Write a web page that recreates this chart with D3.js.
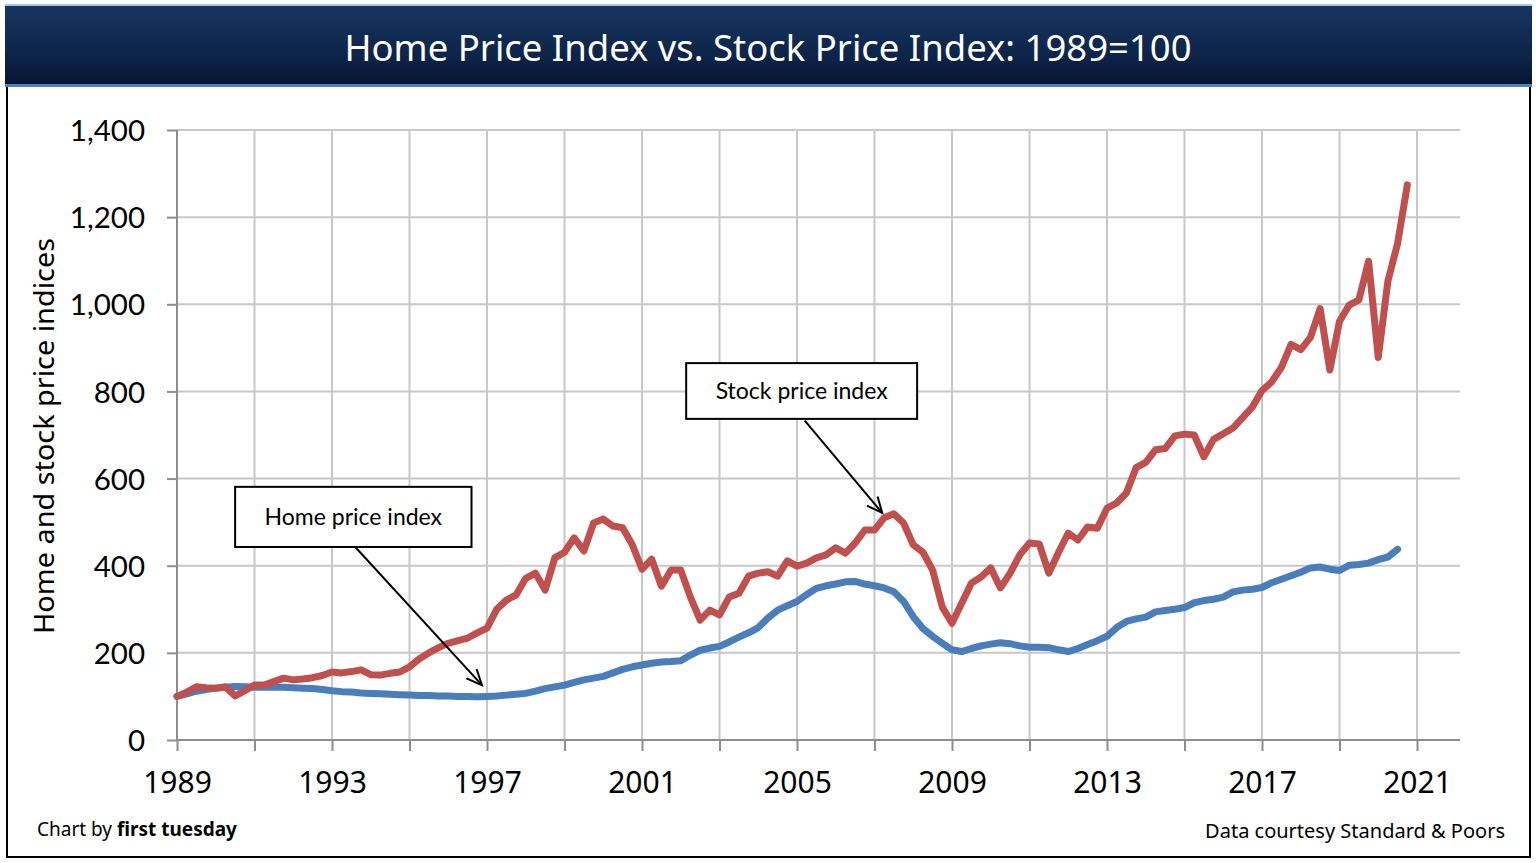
<!DOCTYPE html>
<html>
<head>
<meta charset="utf-8">
<script src="https://cdn.jsdelivr.net/npm/d3@7"></script>
<style>
  body { margin: 0; background: #fff; }
  svg { display: block; }
</style>
</head>
<body>
<div id="chart"></div>
<script>
// quarterly series, first point = 1989 Q1 (1989=100)
const firstYear = 1989;
const stockIndex = [
  100, 110, 122, 120,   // 1989
  119, 122, 101, 113,   // 1990
  126, 126, 134, 142,
  138, 140, 143, 148,
  156, 154, 157, 161,
  150, 149, 153, 156,
  168, 186, 200, 212,   // 1995
  222, 228, 234, 246,
  257, 300, 321, 333,
  371, 383, 344, 418,
  431, 464, 434, 498,
  507, 491, 487, 448,   // 2000
  392, 415, 353, 390,
  390, 328, 275, 298,
  287, 328, 337, 376,
  383, 386, 376, 411,
  399, 406, 418, 425,   // 2005
  441, 429, 452, 482,
  482, 510, 519, 498,
  448, 431, 390, 305,
  268, 314, 360, 374,
  395, 349, 383, 425,   // 2010
  452, 450, 383, 431,
  475, 459, 489, 486,
  532, 544, 567, 625,
  637, 666, 669, 698,
  702, 700, 650, 690,   // 2015
  703, 716, 740, 764,
  802, 822, 855, 908,
  896, 924, 990, 849,
  961, 998, 1010, 1099,
  878, 1054, 1140, 1274 // 2020
];
const homeIndex = [
  100, 106, 112, 116,   // 1989
  119, 121, 123, 122,
  121, 121, 121, 121,
  120, 119, 118, 116,
  113, 111, 110, 108,
  107, 106, 105, 104,
  103, 102, 102, 101,   // 1995
  101, 100, 100, 99,
  100, 101, 103, 105,
  107, 112, 118, 122,
  126, 132, 138, 142,
  146, 154, 162, 168,   // 2000
  172, 176, 179, 180,
  182, 195, 206, 211,
  215, 225, 236, 246,
  258, 280, 298, 308,
  318, 334, 348, 354,   // 2005
  358, 363, 364, 358,
  354, 349, 340, 318,
  283, 256, 238, 222,
  207, 203, 210, 216,
  220, 223, 221, 216,   // 2010
  213, 213, 212, 207,
  203, 210, 219, 228,
  238, 258, 272, 278,
  282, 294, 297, 300,
  304, 315, 320, 323,   // 2015
  328, 340, 344, 346,
  350, 361, 369, 377,
  385, 395, 397, 392,
  389, 401, 403, 406,
  414, 420, 438         // 2020
];
const yearTicks = d3.range(1989, 2022, 2);      // tick marks + grid
const yearLabels = d3.range(1989, 2022, 4);     // labelled years
const valueTicks = d3.range(0, 1401, 200);

// callouts, placed in data space: box corners and arrow ends
const callouts = [
  { text: "Home price index", box: [1990.5, 581, 1996.6, 443], from: [1993.6, 443], to: [1996.87, 126] },
  { text: "Stock price index", box: [2002.14, 865, 2008.1, 737], from: [2005.2, 733], to: [2007.2, 521] }
];

const W = 1536, H = 863;
const margin = { top: 130, right: 76, bottom: 123, left: 177 };
const width = W - margin.left - margin.right;
const height = H - margin.top - margin.bottom;

const svg = d3.select("#chart").append("svg")
  .attr("width", W)
  .attr("height", H);

// title bar
const defs = svg.append("defs");
const grad = defs.append("linearGradient")
  .attr("id", "bar").attr("x1", 0).attr("y1", 0).attr("x2", 0).attr("y2", 1);
grad.append("stop").attr("offset", "0%").attr("stop-color", "#163661");
grad.append("stop").attr("offset", "60%").attr("stop-color", "#0e254a");
grad.append("stop").attr("offset", "100%").attr("stop-color", "#061431");

svg.append("rect")
  .attr("x", 7).attr("y", 86).attr("width", 1523).attr("height", 771)
  .attr("fill", "#fff").attr("stroke", "#000").attr("stroke-width", 2);

svg.append("rect")
  .attr("x", 5).attr("y", 4).attr("width", 1527).attr("height", 83)
  .attr("fill", "url(#bar)");
svg.append("rect")
  .attr("x", 5).attr("y", 4).attr("width", 1527).attr("height", 2)
  .attr("fill", "#a9c3e2");
svg.append("rect")
  .attr("x", 5).attr("y", 84).attr("width", 1527).attr("height", 3)
  .attr("fill", "#4f81bd");

svg.append("text")
  .attr("x", 768).attr("y", 61)
  .attr("text-anchor", "middle")
  .attr("fill", "#fff")
  .attr("font-family", "'Noto Sans', sans-serif")
  .attr("font-size", 37)
  .attr("textLength", 847)
  .attr("lengthAdjust", "spacingAndGlyphs")
  .text("Home Price Index vs. Stock Price Index: 1989=100");

const g = svg.append("g")
  .attr("transform", "translate(" + [margin.left, margin.top] + ")");

const x = d3.scaleLinear()
  .domain([firstYear, firstYear + width / 38.75])
  .range([0, width]);
const y = d3.scaleLinear()
  .domain([0, 1400])
  .range([height, 0]);

// gridlines
g.append("g").selectAll("line.h")
  .data(valueTicks.slice(1))
  .join("line")
  .attr("x1", 0).attr("x2", width)
  .attr("y1", d => y(d)).attr("y2", d => y(d))
  .attr("stroke", "#c8c8c8").attr("stroke-width", 2);

g.append("g").selectAll("line.v")
  .data(yearTicks.slice(1))
  .join("line")
  .attr("x1", d => x(d)).attr("x2", d => x(d))
  .attr("y1", 0).attr("y2", height)
  .attr("stroke", "#c8c8c8").attr("stroke-width", 2);

// axes
const yAxis = d3.axisLeft(y)
  .tickValues(valueTicks)
  .tickSize(10)
  .tickPadding(22)
  .tickFormat(d3.format(","));

const xAxis = d3.axisBottom(x)
  .tickValues(yearTicks)
  .tickSize(11)
  .tickPadding(21)
  .tickFormat(d => yearLabels.includes(d) ? d : "");

const ya = g.append("g").call(yAxis);
const xa = g.append("g").attr("transform", "translate(0," + height + ")").call(xAxis);

ya.select(".domain").remove();
xa.select(".domain").remove();
g.append("line")
  .attr("x1", 0).attr("x2", 0).attr("y1", 0).attr("y2", height)
  .attr("stroke", "#8e8e8e").attr("stroke-width", 2);
g.append("line")
  .attr("x1", 0).attr("x2", width).attr("y1", height).attr("y2", height)
  .attr("stroke", "#8e8e8e").attr("stroke-width", 2);

ya.selectAll(".tick line").attr("stroke", "#8e8e8e").attr("stroke-width", 2);
xa.selectAll(".tick line").attr("stroke", "#8e8e8e").attr("stroke-width", 2);
ya.selectAll(".tick text")
  .attr("font-family", "Lato, sans-serif")
  .attr("font-size", 29.5)
  .attr("fill", "#000")
  .attr("dy", "0.36em");
xa.selectAll(".tick text")
  .attr("font-family", "'Noto Sans', sans-serif")
  .attr("font-size", 30)
  .attr("fill", "#000");

svg.append("text")
  .attr("transform", "translate(54,436) rotate(-90)")
  .attr("text-anchor", "middle")
  .attr("font-family", "'Noto Sans', sans-serif")
  .attr("font-size", 28)
  .attr("textLength", 396)
  .attr("lengthAdjust", "spacingAndGlyphs")
  .attr("fill", "#000")
  .text("Home and stock price indices");

// series
const line = d3.line()
  .x((d, i) => x(firstYear + i / 4))
  .y(d => y(d));

g.append("path")
  .datum(homeIndex)
  .attr("d", line)
  .attr("fill", "none")
  .attr("stroke", "#4a7ebb")
  .attr("stroke-width", 7)
  .attr("stroke-linejoin", "round")
  .attr("stroke-linecap", "round");

g.append("path")
  .datum(stockIndex)
  .attr("d", line)
  .attr("fill", "none")
  .attr("stroke", "#c0504d")
  .attr("stroke-width", 7)
  .attr("stroke-linejoin", "round")
  .attr("stroke-linecap", "round");

// callouts
callouts.forEach(c => {
  const x0 = x(c.box[0]), y0 = y(c.box[1]), x1 = x(c.box[2]), y1 = y(c.box[3]);
  const fx = x(c.from[0]), fy = y(c.from[1]), tx = x(c.to[0]), ty = y(c.to[1]);
  g.append("line")
    .attr("x1", fx).attr("y1", fy).attr("x2", tx).attr("y2", ty)
    .attr("stroke", "#000").attr("stroke-width", 2);
  // open arrow head
  const ang = Math.atan2(ty - fy, tx - fx);
  const len = 17, spread = 0.42;
  const head = [
    [tx - len * Math.cos(ang - spread), ty - len * Math.sin(ang - spread)],
    [tx, ty],
    [tx - len * Math.cos(ang + spread), ty - len * Math.sin(ang + spread)]
  ];
  g.append("path")
    .attr("d", d3.line()(head))
    .attr("fill", "none").attr("stroke", "#000").attr("stroke-width", 2);

  g.append("rect")
    .attr("x", x0).attr("y", y0)
    .attr("width", x1 - x0).attr("height", y1 - y0)
    .attr("fill", "#fff").attr("stroke", "#000").attr("stroke-width", 2);
  g.append("text")
    .attr("x", (x0 + x1) / 2).attr("y", (y0 + y1) / 2)
    .attr("dy", "0.36em")
    .attr("text-anchor", "middle")
    .attr("font-family", "Lato, sans-serif")
    .attr("font-size", 23)
    .text(c.text);
});

// footer
const foot = svg.append("text")
  .attr("x", 37).attr("y", 836)
  .attr("font-family", "'Noto Sans', sans-serif")
  .attr("font-size", 19);
foot.append("tspan").text("Chart by ");
foot.append("tspan").attr("font-weight", "bold").text("first tuesday");

svg.append("text")
  .attr("x", 1505).attr("y", 838)
  .attr("text-anchor", "end")
  .attr("font-family", "'Noto Sans', sans-serif")
  .attr("font-size", 20)
  .text("Data courtesy Standard & Poors");
</script>
</body>
</html>
